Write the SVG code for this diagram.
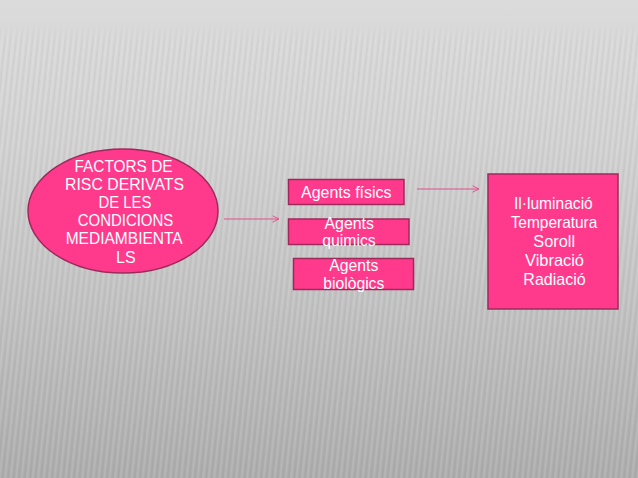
<svg xmlns="http://www.w3.org/2000/svg" width="638" height="478" viewBox="0 0 638 478">
<defs>
<linearGradient id="bg" x1="0" y1="0" x2="0" y2="1">
<stop offset="0" stop-color="#dbdbdb"/>
<stop offset="0.3" stop-color="#d1d1d1"/>
<stop offset="0.6" stop-color="#c2c2c2"/>
<stop offset="1" stop-color="#aaaaaa"/>
</linearGradient>
<linearGradient id="sg" x1="0" y1="0" x2="1" y2="0">
<stop offset="0" stop-color="#ffffff" stop-opacity="0.18"/>
<stop offset="0.45" stop-color="#ffffff" stop-opacity="0"/>
<stop offset="0.6" stop-color="#6a6a6a" stop-opacity="0.08"/>
<stop offset="1" stop-color="#ffffff" stop-opacity="0.18"/>
</linearGradient>
<pattern id="stripes" width="5.5" height="20" patternUnits="userSpaceOnUse" patternTransform="skewX(-6)">
<rect x="0" y="0" width="5.5" height="20" fill="url(#sg)"/>
</pattern>
<linearGradient id="fade" x1="0" y1="0" x2="0" y2="1">
<stop offset="0" stop-color="#fff" stop-opacity="0"/>
<stop offset="0.05" stop-color="#fff" stop-opacity="0"/>
<stop offset="0.09" stop-color="#fff" stop-opacity="1"/>
<stop offset="1" stop-color="#fff" stop-opacity="1"/>
</linearGradient>
<mask id="m"><rect x="0" y="0" width="638" height="478" fill="url(#fade)"/></mask>
<marker id="arr" viewBox="0 0 10 10" refX="9" refY="5" markerWidth="8" markerHeight="8" orient="auto" markerUnits="userSpaceOnUse">
<path d="M1,1 L9,5 L1,9" fill="none" stroke="#e0508c" stroke-width="1.2"/>
</marker>
</defs>
<style>
.n{fill:#ff3a8c;stroke:#9e2a5c;stroke-width:1.5}
.t{font-family:"Liberation Sans",Arial,sans-serif;fill:#ffffff;text-anchor:middle;font-size:16.5px}
.c{stroke:#e0508c;stroke-width:1.2;fill:none;marker-end:url(#arr)}
</style>
<rect width="638" height="478" fill="url(#bg)"/>
<rect width="638" height="478" fill="url(#stripes)" mask="url(#m)"/>
<g id="connectors">
<line class="c" x1="224" y1="219" x2="279" y2="219"/>
<line class="c" x1="417" y1="189" x2="479" y2="189"/>
</g>
<g id="factors">
<ellipse class="n" cx="123" cy="211" rx="95" ry="62"/>
<text class="t" x="123.5" y="171.5" textLength="98" lengthAdjust="spacingAndGlyphs">FACTORS DE</text>
<text class="t" x="124.5" y="189.5" textLength="119" lengthAdjust="spacingAndGlyphs">RISC DERIVATS</text>
<text class="t" x="125" y="207.5" textLength="53" lengthAdjust="spacingAndGlyphs">DE LES</text>
<text class="t" x="125.5" y="225.5" textLength="95.5" lengthAdjust="spacingAndGlyphs">CONDICIONS</text>
<text class="t" x="124.2" y="244" textLength="117" lengthAdjust="spacingAndGlyphs">MEDIAMBIENTA</text>
<text class="t" x="125.8" y="262.5" textLength="19.5" lengthAdjust="spacingAndGlyphs">LS</text>
</g>
<g id="fisics">
<rect class="n" x="288.5" y="179.5" width="115.5" height="25"/>
<text class="t" x="346.3" y="197.5" textLength="90.5" lengthAdjust="spacingAndGlyphs">Agents físics</text>
</g>
<g id="quimics">
<rect class="n" x="288.5" y="219" width="120.5" height="25.5"/>
<text class="t" x="349.2" y="228.5" textLength="49.5" lengthAdjust="spacingAndGlyphs">Agents</text>
<text class="t" x="349" y="245.7" textLength="53.3" lengthAdjust="spacingAndGlyphs">quimics</text>
</g>
<g id="biologics">
<rect class="n" x="293.5" y="258.5" width="120" height="31"/>
<text class="t" x="353.8" y="270.5" textLength="49" lengthAdjust="spacingAndGlyphs">Agents</text>
<text class="t" x="353.8" y="288.5" textLength="61" lengthAdjust="spacingAndGlyphs">biològics</text>
</g>
<g id="fisics-list">
<rect class="n" x="488" y="174" width="130" height="135"/>
<text class="t" x="553.4" y="208.5" textLength="78.7" lengthAdjust="spacingAndGlyphs">Il·luminació</text>
<text class="t" x="554" y="227.7" textLength="86.7" lengthAdjust="spacingAndGlyphs">Temperatura</text>
<text class="t" x="554.2" y="246.8" textLength="41.7" lengthAdjust="spacingAndGlyphs">Soroll</text>
<text class="t" x="554.5" y="266" textLength="59" lengthAdjust="spacingAndGlyphs">Vibració</text>
<text class="t" x="554.5" y="285" textLength="62.3" lengthAdjust="spacingAndGlyphs">Radiació</text>
</g>
</svg>
